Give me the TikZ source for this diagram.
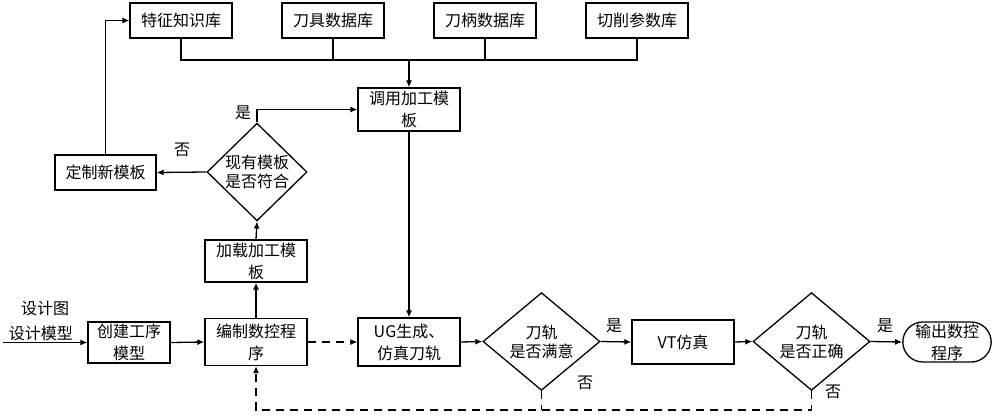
\documentclass[tikz,border=0pt]{standalone}
\usepackage{fontspec}
\setmainfont{Noto Sans CJK SC}
\usetikzlibrary{shapes.geometric,shapes.misc,arrows.meta,calc}
\tikzset{
  base/.style={draw=black, line width=1.3pt, inner sep=0pt, align=center, font=\fontsize{16}{22}\selectfont},
  box/.style={base, rectangle, minimum width=102pt, minimum height=35pt},
  dec/.style={base, diamond, font=\fontsize{16}{19}\selectfont},
  term/.style={base, rounded rectangle, minimum width=81pt, minimum height=40pt},
  lbl/.style={inner sep=0pt, font=\fontsize{16}{19}\selectfont},
  conn/.style={line width=1.3pt, -{Latex[length=7pt,width=6pt]}},
  plain/.style={line width=1.3pt},
  dsh/.style={line width=1.3pt, dash pattern=on 8pt off 6pt},
}
\begin{document}
\begin{tikzpicture}[x=1pt,y=-1pt]
\useasboundingbox (0,0) rectangle (1000,417);
% top knowledge bases
\node[box] (kb1) at (181,20.5) {特征知识库};
\node[box] (kb2) at (333,20.5) {刀具数据库};
\node[box] (kb3) at (485,20.5) {刀柄数据库};
\node[box] (kb4) at (637,20.5) {切削参数库};
% middle
\node[box, minimum height=43pt] (call) at (409,109.5) {调用加工模\\板};
\node[dec, minimum width=100pt, minimum height=84pt] (dec1) at (257,172) {现有模板\\是否符合};
\node[box, minimum width=101pt] (newt) at (105.5,172.5) {定制新模板};
\node[box, minimum height=42pt] (load) at (256,261) {加载加工模\\板};
% bottom row
\node[box, minimum height=47pt] (prog) at (256,342) {编制数控程\\序};
\node[box, minimum width=82pt, minimum height=41pt] (create) at (129,342.5) {创建工序\\模型};
\node[box, minimum height=48pt] (ug) at (409,342) {UG生成、\\仿真刀轨};
\node[dec, minimum width=117pt, minimum height=67pt] (dec2) at (541.5,341.5) {刀轨\\是否满意};
\node[box, minimum height=44pt] (vt) at (683,342) {VT仿真};
\node[dec, minimum width=117pt, minimum height=67pt] (dec3) at (811.5,341.5) {刀轨\\是否正确};
\node[term] (out) at (947,342) {输出数控\\程序};
% input
\coordinate (in) at (3,342.5);
\node[lbl] (t1) at (45,308) {设计图};
\node[lbl] (t2) at (41,333) {设计模型};
% bus
\coordinate (bus) at (409,60);
\draw[plain] (kb1.south) -- (kb1.south |- bus) -- (kb4.south |- bus) -- (kb4.south);
\draw[plain] (kb2.south) -- (kb2.south |- bus);
\draw[plain] (kb3.south) -- (kb3.south |- bus);
\draw[conn] (bus) -- (call.north);
% decision 1
\draw[conn] (dec1.north) |- (call.west);
\node[lbl] (y1) at (243,113) {是};
\draw[conn] (dec1.west) -- (newt.east);
\node[lbl] (n1) at (182,150) {否};
\draw[conn] (newt.north) |- (kb1.west);
\draw[conn] (load.north) -- (dec1.south);
\draw[conn] (prog.north) -- (load.south);
% main flow
\draw[conn] (in) -- (create.west);
\draw[conn] (create.east) -- (prog.west);
\draw[conn, dash pattern=on 8pt off 6pt] (prog.east) -- (ug.west);
\draw[conn] (call.south) -- (ug.north);
\draw[conn] (ug.east) -- (dec2.west);
\draw[conn] (dec2.east) -- (vt.west);
\node[lbl] (y2) at (614,326) {是};
\draw[conn] (vt.east) -- (dec3.west);
\draw[conn] (dec3.east) -- (out.west);
\node[lbl] (y3) at (885,326) {是};
% feedback loop
\coordinate (loop) at (257,410);
\draw[dsh] (dec2.south) -- (dec2.south |- loop);
\draw[dsh, -{Latex[length=7pt,width=6pt]}] (dec3.south) -- (dec3.south |- loop) -| (prog.south);
\node[lbl] (n2) at (585,383) {否};
\node[lbl] (n3) at (833,392) {否};
\end{tikzpicture}
\end{document}
